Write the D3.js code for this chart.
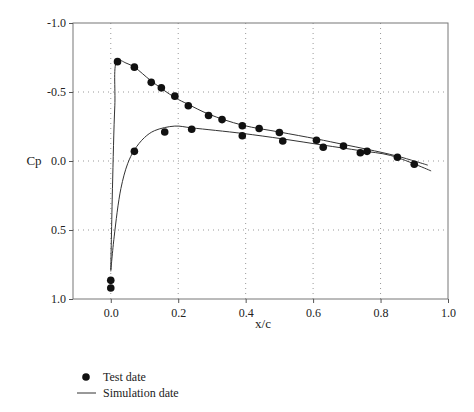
<!DOCTYPE html><html><head><meta charset="utf-8"><script src="https://cdn.jsdelivr.net/npm/d3@7"></script>
<style>body{margin:0;background:#fff}text{font-family:"Liberation Serif",serif;fill:#222}</style></head><body><svg id="c" width="474" height="412"></svg>
<script>
const testUpperX=[.02,.07,.12,.15,.19,.23,.29,.33,.39,.44,.50,.61,.69,.76,.85,.90];
const testUpperCp=[-.72,-.68,-.57,-.53,-.47,-.40,-.33,-.30,-.255,-.236,-.207,-.15,-.108,-.07,-.027,.024];
const testLowerX=[0,0,.07,.16,.24,.39,.51,.63,.74];
const testLowerCp=[.865,.92,-.07,-.21,-.23,-.183,-.145,-.10,-.06];
const simUpperX=[0,.005,.012,.02,.045,.07,.12,.19,.23,.29,.39,.5,.61,.69,.76,.85,.94];
const simUpperCp=[.79,.2,-.4,-.73,-.71,-.68,-.58,-.46,-.41,-.34,-.26,-.21,-.16,-.12,-.085,-.035,.03];
const simLowerX=[0,.01,.03,.05,.07,.1,.13,.19,.24,.39,.51,.63,.74,.83,.95];
const simLowerCp=[.8,.55,.2,.02,-.08,-.17,-.22,-.253,-.24,-.2,-.16,-.115,-.075,-.04,.072];
const xTicks=[0,.2,.4,.6,.8,1.0], yTicks=[-1,-.5,0,.5,1];
const svg=d3.select("#c");
const x=d3.scaleLinear().domain([-0.112,1.0]).range([73,448]);
const y=d3.scaleLinear().domain([-1,1]).range([23,299]);
const fmt=v=>d3.format(".1f")(v).replace("\u2212","-");
const g=svg.append("g");
xTicks.slice(0,5).forEach(t=>g.append("line").attr("x1",x(t)).attr("x2",x(t)).attr("y1",23).attr("y2",299).attr("stroke","#999").attr("stroke-dasharray","1,4"));
yTicks.slice(1,4).forEach(t=>g.append("line").attr("y1",y(t)).attr("y2",y(t)).attr("x1",73).attr("x2",448).attr("stroke","#999").attr("stroke-dasharray","1,4"));
g.append("rect").attr("x",73).attr("y",23).attr("width",375).attr("height",276).attr("fill","none").attr("stroke","#777");
svg.append("g").attr("transform","translate(0,299)").call(d3.axisBottom(x).tickValues(xTicks).tickFormat(fmt).tickSizeOuter(0).tickSize(4))
 .call(a=>{a.select(".domain").remove();a.selectAll("line").attr("stroke","#555");a.selectAll("text").attr("font-size",12).attr("dy","0.9em")});
svg.append("g").attr("transform","translate(73,0)").call(d3.axisLeft(y).tickValues(yTicks).tickFormat(fmt).tickSizeOuter(0).tickSize(4))
 .call(a=>{a.select(".domain").remove();a.selectAll("line").attr("stroke","#555");a.selectAll("text").attr("font-size",12)});
[[simUpperX,simUpperCp],[simLowerX,simLowerCp]].forEach(([xs,ys])=>{
 const pts=xs.map((v,i)=>[x(v),y(ys[i])]);
 svg.append("path").attr("d",d3.line().curve(d3.curveCatmullRom.alpha(0.5))(pts)).attr("fill","none").attr("stroke","#333").attr("stroke-width",1);
});
[[testUpperX,testUpperCp],[testLowerX,testLowerCp]].forEach(([xs,ys])=>{
 svg.append("g").selectAll("circle").data(xs).join("circle").attr("cx",d=>x(d)).attr("cy",(d,i)=>y(ys[i])).attr("r",3.8).attr("fill","#111");
});
svg.append("text").attr("x",34).attr("y",165).attr("font-size",13).attr("text-anchor","middle").text("Cp");
svg.append("text").attr("x",263).attr("y",328).attr("font-size",13).attr("text-anchor","middle").text("x/c");
svg.append("circle").attr("cx",86).attr("cy",377).attr("r",3.8).attr("fill","#111");
svg.append("text").attr("x",103).attr("y",381).attr("font-size",12).text("Test date");
svg.append("line").attr("x1",77).attr("x2",96).attr("y1",393).attr("y2",393).attr("stroke","#333");
svg.append("text").attr("x",103).attr("y",397).attr("font-size",12).text("Simulation date");
</script></body></html>
